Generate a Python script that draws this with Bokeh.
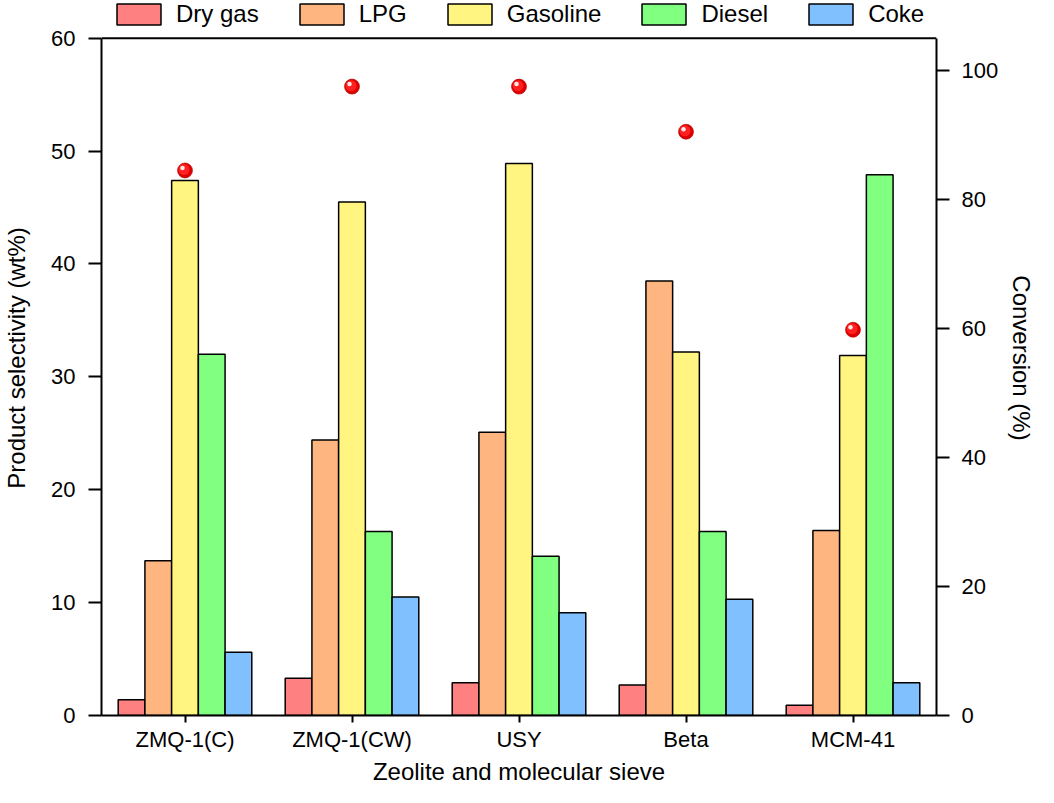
from bokeh.plotting import figure
from bokeh.models import (ColumnDataSource, FactorRange, Range1d, LinearAxis,
                          Legend, LegendItem, FixedTicker, Span)
from bokeh.transform import dodge
from bokeh.embed import file_html
from bokeh.resources import INLINE

# values
samples = ["ZMQ-1(C)", "ZMQ-1(CW)", "USY", "Beta", "MCM-41"]
dry_gas = [1.4, 3.3, 2.9, 2.7, 0.9]
lpg = [13.7, 24.4, 25.1, 38.5, 16.4]
gasoline = [47.4, 45.5, 48.9, 32.2, 31.9]
diesel = [32.0, 16.3, 14.1, 16.3, 47.9]
coke = [5.6, 10.5, 9.1, 10.3, 2.9]
conversion = [84.5, 97.5, 97.5, 90.5, 59.8]

products = ["Dry gas", "LPG", "Gasoline", "Diesel", "Coke"]
columns = ["dry_gas", "lpg", "gasoline", "diesel", "coke"]
colors = ["#ff8080", "#ffb580", "#fff580", "#80ff80", "#80c0ff"]
offsets = [-0.32, -0.16, 0.0, 0.16, 0.32]

FONT = "Liberation Sans"
H = 787
FRAME_H = 720          # frame runs from the canvas top down to the x axis
BOX_TOP = 38           # where the drawn box (y = 60) sits
SEL_MAX, CONV_MAX = 60, 105

# the frame also holds the legend strip above the box
scale = (FRAME_H - BOX_TOP) / SEL_MAX
sel_end = FRAME_H / scale
conv_end = CONV_MAX * FRAME_H / (FRAME_H - BOX_TOP)

source = ColumnDataSource(dict(sample=samples, dry_gas=dry_gas, lpg=lpg,
                               gasoline=gasoline, diesel=diesel, coke=coke,
                               conversion=conversion))

p = figure(x_range=FactorRange(*samples, range_padding=0),
           y_range=Range1d(0, sel_end), width=1038, height=H, title=None,
           output_backend="svg", toolbar_location=None,
           min_border_left=98, min_border_right=96,
           min_border_top=0, min_border_bottom=H - FRAME_H)
p.extra_y_ranges = {"conv": Range1d(0, conv_end)}
p.xgrid.visible = False
p.ygrid.visible = False
p.outline_line_color = None


def style_axis(ax, tick_out, label_standoff, title_standoff):
    ax.axis_line_width = 2
    ax.axis_line_color = "black"
    ax.major_tick_line_width = 2
    ax.major_tick_line_color = "black"
    ax.major_tick_in = 0
    ax.major_tick_out = tick_out
    ax.minor_tick_line_color = None
    ax.major_label_text_font = FONT
    ax.major_label_text_font_size = "22px"
    ax.major_label_text_color = "black"
    ax.major_label_standoff = label_standoff
    ax.axis_label_text_font = FONT
    ax.axis_label_text_font_size = "24px"
    ax.axis_label_text_font_style = "normal"
    ax.axis_label_text_color = "black"
    ax.axis_label_standoff = title_standoff


xax = p.xaxis[0]
xax.axis_label = "Zeolite and molecular sieve"
style_axis(xax, 7, 4, 3)

yax = p.yaxis[0]
yax.axis_label = "Product selectivity (wt%)"
yax.ticker = FixedTicker(ticks=[0, 10, 20, 30, 40, 50, 60])
yax.bounds = (0, SEL_MAX)
style_axis(yax, 13, 13, 18)

rax = LinearAxis(y_range_name="conv", axis_label="Conversion (%)",
                 ticker=FixedTicker(ticks=[0, 20, 40, 60, 80, 100]),
                 bounds=(0, CONV_MAX))
style_axis(rax, 13, 12, 7)
p.add_layout(rax, "right")

# top edge of the box
p.add_layout(Span(location=SEL_MAX, dimension="width", line_color="black",
                  line_width=2))

# grouped bars
items = []
for col, name, color, off in zip(columns, products, colors, offsets):
    r = p.vbar(x=dodge("sample", off, range=p.x_range), top=col, width=0.16,
               source=source, fill_color=color, line_color="black",
               line_width=1.5)
    items.append(LegendItem(label=name, renderers=[r]))

# conversion spheres: dark rim, brighter body, small light spot up-left
p.scatter(x="sample", y="conversion", y_range_name="conv", size=15,
          fill_color="#dd0000", line_color="#b00000", line_width=0.6,
          source=source)
p.scatter(x=dodge("sample", -0.006, range=p.x_range),
          y=dodge("conversion", 0.15), y_range_name="conv", size=11,
          fill_color="#ff2020", line_alpha=0, source=source)
p.scatter(x=dodge("sample", -0.015, range=p.x_range),
          y=dodge("conversion", 0.4), y_range_name="conv", size=4.5,
          fill_color="#ffe8e8", line_alpha=0, source=source)

legend = Legend(items=items, orientation="horizontal",
                location=(10, FRAME_H - 33),
                glyph_width=55, glyph_height=26, label_height=26,
                label_standoff=10, spacing=35, padding=0, margin=0,
                label_text_font=FONT, label_text_font_size="24px",
                label_text_color="black", background_fill_alpha=0,
                border_line_alpha=0)
p.add_layout(legend, "center")

open("out.html", "w").write(file_html(p, INLINE))
